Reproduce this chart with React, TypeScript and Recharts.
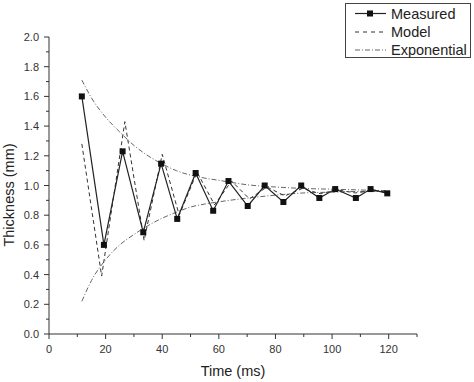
import React from 'react';
import { LineChart, Line, XAxis, YAxis } from 'recharts';

// Measured thickness
const measuredTime = [11.6, 19.4, 26.0, 33.3, 39.6, 45.3, 51.8, 58.0, 63.4, 70.2, 76.2, 82.8, 89.1, 95.5, 101.1, 108.4, 113.6, 119.5];
const measuredThickness = [1.60, 0.60, 1.23, 0.685, 1.147, 0.775, 1.084, 0.83, 1.03, 0.862, 1.0, 0.889, 1.0, 0.916, 0.976, 0.916, 0.976, 0.947];

// Model curve
const modelTime = [11.6, 18.6, 26.8, 33.6, 40.0, 46.0, 52.3, 58.5, 64.5, 70.8, 77.0, 83.3, 89.5, 95.8, 102.0, 108.2, 114.4, 120.0];
const modelThickness = [1.28, 0.39, 1.43, 0.63, 1.21, 0.80, 1.09, 0.87, 1.03, 0.91, 0.99, 0.93, 0.98, 0.945, 0.97, 0.95, 0.965, 0.955];

// Exponential envelopes
const expTime = [11.6, 15, 20, 25, 30, 35, 40, 45, 50, 55, 60, 70, 80, 90, 100, 110, 120];
const expUpper = [1.71, 1.59, 1.46, 1.36, 1.27, 1.20, 1.145, 1.10, 1.07, 1.05, 1.035, 1.005, 0.99, 0.98, 0.975, 0.97, 0.965];
const expLower = [0.22, 0.36, 0.50, 0.60, 0.67, 0.73, 0.78, 0.82, 0.855, 0.875, 0.89, 0.915, 0.935, 0.95, 0.955, 0.96, 0.96];

// Axis ticks
const xTicks = [0, 10, 20, 30, 40, 50, 60, 70, 80, 90, 100, 110, 120, 130];
const xMajor = [0, 20, 40, 60, 80, 100, 120];
const yTicks = [0, 0.1, 0.2, 0.3, 0.4, 0.5, 0.6, 0.7, 0.8, 0.9, 1.0, 1.1, 1.2, 1.3, 1.4, 1.5, 1.6, 1.7, 1.8, 1.9, 2.0];
const yMajor = [0, 0.2, 0.4, 0.6, 0.8, 1.0, 1.2, 1.4, 1.6, 1.8, 2.0];

const toRows = (xs: number[], ys: number[]) => xs.map((t, i) => ({ t, v: ys[i] }));

const measured = toRows(measuredTime, measuredThickness);
const model = toRows(modelTime, modelThickness);
const upper = toRows(expTime, expUpper);
const lower = toRows(expTime, expLower);

const FONT = '"Liberation Sans", Arial, sans-serif';
const AX = '#333';

const isMajor = (v: number, majors: number[]) => majors.some((m) => Math.abs(m - v) < 1e-6);

const XTick = (props: any) => {
  const { x, y, payload } = props;
  const major = isMajor(payload.value, xMajor);
  return (
    <g>
      <line x1={x} x2={x} y1={y} y2={y + (major ? 5 : 3)} stroke={AX} strokeWidth={1} />
      {major && (
        <text x={x} y={y + 15} textAnchor="middle" dominantBaseline="central" fontSize={11} fontFamily={FONT} fill="#333">
          {payload.value}
        </text>
      )}
    </g>
  );
};

const YTick = (props: any) => {
  const { x, y, payload } = props;
  const major = isMajor(payload.value, yMajor);
  return (
    <g>
      <line x1={x - (major ? 5 : 3)} x2={x} y1={y} y2={y} stroke={AX} strokeWidth={1} />
      {major && (
        <text x={x - 10} y={y} textAnchor="end" dominantBaseline="central" fontSize={11} fontFamily={FONT} fill="#333">
          {Number(payload.value).toFixed(1)}
        </text>
      )}
    </g>
  );
};

const SquareDot = (props: any) => {
  const { cx, cy, index } = props;
  if (cx == null || cy == null) return <g key={index} />;
  return <rect key={index} x={cx - 3} y={cy - 3} width={6} height={6} fill="#111" />;
};

const Overlay = () => (
  <svg width={474} height={382} style={{ position: 'absolute', left: 0, top: 0, pointerEvents: 'none' }}>
    <rect x={345.5} y={3.5} width={125} height={54} fill="#fff" stroke="#444" strokeWidth={1} />
    <line x1={355} x2={386} y1={13.5} y2={13.5} stroke="#222" strokeWidth={1.2} />
    <rect x={367} y={10.5} width={6} height={6} fill="#111" />
    <text x={391} y={14} dominantBaseline="central" fontSize={14.5} fontFamily={FONT} fill="#222">Measured</text>
    <line x1={355} x2={386} y1={32} y2={32} stroke="#333" strokeWidth={1} strokeDasharray="4 4" />
    <text x={391} y={32} dominantBaseline="central" fontSize={14.5} fontFamily={FONT} fill="#222">Model</text>
    <line x1={355} x2={386} y1={50} y2={50} stroke="#555" strokeWidth={0.9} strokeDasharray="5 2 1 2" />
    <text x={391} y={50} dominantBaseline="central" fontSize={14.5} fontFamily={FONT} fill="#222">Exponential</text>
    <text x={233} y={371} textAnchor="middle" dominantBaseline="central" fontSize={14.5} fontFamily={FONT} fill="#222">Time (ms)</text>
    <text x={8.5} y={195} textAnchor="middle" dominantBaseline="central" fontSize={14.5} fontFamily={FONT} fill="#222" transform="rotate(-90 8.5 195)">Thickness (mm)</text>
  </svg>
);

export default function App() {
  return (
    <div style={{ position: 'absolute', left: 0, top: 0, width: 474, height: 382, background: '#fff' }}>
      <LineChart width={474} height={382} margin={{ top: 37, right: 57, left: 0, bottom: 0 }}>
        <XAxis
          dataKey="t"
          type="number"
          domain={[0, 130]}
          ticks={xTicks}
          interval={0}
          tickSize={0}
          tickMargin={0}
          tickLine={false}
          tick={<XTick />}
          axisLine={{ stroke: AX, strokeWidth: 1 }}
          height={48}
          allowDataOverflow
        />
        <YAxis
          type="number"
          domain={[0, 2]}
          ticks={yTicks}
          interval={0}
          tickSize={0}
          tickMargin={0}
          tickLine={false}
          tick={<YTick />}
          axisLine={{ stroke: AX, strokeWidth: 1 }}
          width={49}
          allowDataOverflow
        />
        <Line data={upper} dataKey="v" type="monotone" stroke="#555" strokeWidth={0.9} strokeDasharray="5 2 1 2" dot={false} isAnimationActive={false} />
        <Line data={lower} dataKey="v" type="monotone" stroke="#555" strokeWidth={0.9} strokeDasharray="5 2 1 2" dot={false} isAnimationActive={false} />
        <Line data={model} dataKey="v" type="linear" stroke="#333" strokeWidth={1} strokeDasharray="4 3" dot={false} isAnimationActive={false} />
        <Line data={measured} dataKey="v" type="linear" stroke="#222" strokeWidth={1.2} dot={<SquareDot />} isAnimationActive={false} />
      </LineChart>
      <Overlay />
    </div>
  );
}
